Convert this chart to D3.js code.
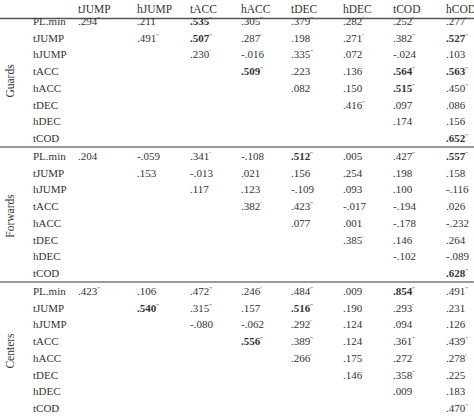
<!DOCTYPE html>
<html><head><meta charset="utf-8">
<script src="https://cdn.jsdelivr.net/npm/d3@7/dist/d3.min.js"></script>
<style>body{margin:0;background:#fff}text{font-family:"Liberation Serif","DejaVu Serif",serif;fill:#333}</style>
</head><body><svg id="c" width="474" height="417"></svg>
<script>
const columns=["tJUMP","hJUMP","tACC","hACC","tDEC","hDEC","tCOD","hCOD"];
const rowLabels=["PLmin","tJUMP","hJUMP","tACC","hACC","tDEC","hDEC","tCOD"];
const groups=["Guards","Forwards","Centers"];
const guards=[
[".294**",".211",".535**",".305**",".379**",".282*",".252*",".277*"],
[".491**",".507**",".287*",".198",".271*",".382**",".527**"],
[".230*","-.016",".335**",".072","-.024",".103"],
[".509**",".223",".136",".564**",".563**"],
[".082",".150",".515**",".450**"],
[".416**",".097",".086"],
[".174",".156"],
[".652**"]];
const forwards=[
[".204","-.059",".341*","-.108",".512**",".005",".427**",".557**"],
[".153","-.013",".021",".156",".254",".198",".158"],
[".117",".123","-.109",".093",".100","-.116"],
[".382*",".423**","-.017","-.194",".026"],
[".077",".001","-.178","-.232"],
[".385*",".146",".264"],
["-.102","-.089"],
[".628**"]];
const centers=[
[".423**",".106",".472**",".246*",".484**",".009",".854**",".491**"],
[".540**",".315**",".157",".516**",".190",".293*",".231"],
["-.080","-.062",".292*",".124",".094",".126"],
[".556**",".389**",".124",".361**",".439**"],
[".266*",".175",".272*",".278*"],
[".146",".358**",".225"],
[".009",".183"],
[".470**"]];
const groupData=[guards,forwards,centers];

const svg=d3.select("#c");
const xs=[78,137,190,241,291,343,393,446];
const xc=c=>xs[columns.indexOf(c)];
const ry=d3.scaleBand().domain(rowLabels).range([-2.35,131.25]);
svg.selectAll("text.h").data(columns).enter().append("text").attr("x",d=>xc(d)).attr("y",13)
 .attr("font-size",11.5).text(d=>d);
svg.append("line").attr("x1",0).attr("x2",474).attr("y1",18.5).attr("y2",18.5).attr("stroke","#555").attr("stroke-width",1.3);
groups.forEach((g,gi)=>{
  const g0=19+gi*135;
  const G=svg.append("g").attr("transform",`translate(0,${g0})`);
  if(gi>0) svg.append("line").attr("x1",0).attr("x2",474).attr("y1",g0-7).attr("y2",g0-7).attr("stroke","#777").attr("stroke-width",1.3);
  G.append("text").attr("transform",`translate(14,${62}) rotate(-90)`).attr("text-anchor","middle").attr("font-size",11.5).text(g);
  rowLabels.forEach((r,ri)=>{
    const yy=ry(r)+ry.bandwidth()/2;
    G.append("text").attr("x",33).attr("y",yy).attr("font-size",11).text(r==="PLmin"?"PL.min":r);
    groupData[gi][ri].forEach((v,ci)=>{
      const col=columns[ri+ci];
      const num=v.replace(/\*/g,""), st=v.slice(num.length);
      const t=G.append("text").attr("x",xc(col)).attr("y",yy).attr("font-size",11);
      t.append("tspan").attr("font-weight",Math.abs(+num)>=0.5?"bold":null).text(num);
      if(st) t.append("tspan").attr("font-size",7).attr("dy",-4).text(st.replace(/\*/g,"'"));
    });
  });
});
</script></body></html>
